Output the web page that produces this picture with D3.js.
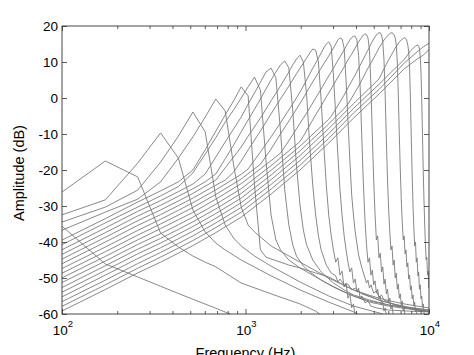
<!DOCTYPE html>
<html>
<head>
<meta charset="utf-8">
<script src="https://cdn.jsdelivr.net/npm/d3@7"></script>
<style>
  html, body { margin: 0; padding: 0; background: #fff; }
  svg { display: block; }
  text { font-family: "Liberation Sans", Arial, Helvetica, sans-serif; fill: #000; }
</style>
</head>
<body>
<svg id="chart" width="474" height="355"></svg>
<script>
// FFT bin spacing (Hz) — each response is sampled at integer bins
const binWidthHz = 86.13;

// Each curve: [bin index, amplitude dB]
const curve00 = [[1,-32.7],[2,-46.1],[3,-49.7],[4,-52.3],[5,-54.3],[6,-55.9],[8,-58.4],[10,-60.4],[12,-62]];
const curve01 = [[1,-28.5],[2,-17.5],[3,-21.9],[4,-37.5],[5,-41.4],[6,-43.9],[7,-45.6],[8,-46.9],[11,-51.4],[16,-54.4],[23,-57.2],[28,-59.2],[30,-60.3]];
const curve02 = [[1,-33.6],[2,-28.3],[3,-18.1],[4,-9.7],[5,-16.7],[6,-31.1],[7,-37.2],[8,-40.3],[9,-42.2],[11,-45],[16,-49.4],[23,-53.3],[33,-56.7],[45,-59.4],[50,-60.6]];
const curve03 = [[1,-35.6],[2,-30.3],[3,-25.6],[4,-17.8],[5,-10.6],[6,-3.9],[7,-9.4],[8,-27.5],[9,-35.3],[10,-38.9],[11,-41.1],[13,-43.9],[16,-46.7],[23,-51.1],[33,-55],[45,-57.8],[62,-59.7],[70,-60.6]];
const curve04 = [[1,-38.1],[2,-31.7],[3,-28.1],[4,-23.3],[5,-16.7],[6,-10.8],[7,-5.3],[8,-0.3],[9,-3.6],[10,-18.6],[11,-30.3],[12,-35.3],[13,-37.2],[16,-41.1],[23,-45.6],[33,-50],[45,-53.3],[62,-56.1],[85,-58.1],[116,-59.4]];
const curve05 = [[1,-41.1],[2,-33.5],[3,-28.9],[4,-25.8],[5,-23.3],[6,-20],[7,-14.4],[8,-9.2],[9,-4.7],[10,-0.8],[11,3.1],[12,0.6],[13,-24.2],[14,-42.2],[15,-44.2],[16,-44.7],[20,-46.4],[23,-47.2],[28,-48.6],[33,-49.7],[38,-51.4],[45,-53.3],[52,-54.4],[62,-55.6],[72,-56.4],[85,-57.2],[100,-57.8],[116,-58.3]];
const curve06 = [[1,-42.4],[2,-34.7],[3,-30.3],[4,-27.2],[5,-24.6],[6,-20.8],[7,-15.6],[8,-11],[9,-6.7],[10,-3.3],[11,0],[12,3.1],[13,5.8],[14,2.2],[15,-17.2],[16,-32.5],[17,-39.4],[18,-42.2],[20,-45],[23,-47.2],[28,-49.7],[33,-51.7],[38,-53.3],[45,-55],[55,-56.4],[70,-57.5],[90,-58.3],[116,-58.9]];
const curve07 = [[1,-43.8],[2,-36.1],[3,-31.5],[4,-28.5],[5,-26],[6,-23.9],[7,-21.1],[8,-16.4],[9,-12.2],[10,-8.6],[11,-5.3],[12,-1.7],[13,1.4],[14,4.4],[15,7.2],[16,8.3],[17,5.6],[18,-8.9],[19,-25.6],[20,-35.3],[21,-40.8],[22,-43.9],[24,-46.7],[26,-48.3],[30,-50.6],[35,-52.5],[40,-53.9],[45,-55],[55,-56.7],[70,-57.8],[90,-58.6],[116,-59.4]];
const curve08 = [[1,-45.1],[2,-37.4],[3,-32.8],[4,-29.8],[5,-27.3],[6,-25.2],[7,-23.3],[8,-21.1],[9,-16.9],[10,-13.1],[11,-9.4],[12,-6.1],[13,-3.1],[14,-0.3],[15,2.5],[16,5],[17,7.2],[18,9.2],[19,10.3],[20,8.3],[21,-3.3],[22,-18.6],[23,-29.7],[24,-36.7],[25,-40.8],[27,-45],[30,-48.3],[35,-51.4],[40,-53.3],[45,-54.7],[55,-56.1],[70,-57.5],[90,-58.3],[116,-59.2]];
const curve09 = [[1,-46.4],[2,-38.7],[3,-34.1],[4,-31.1],[5,-28.6],[6,-26.5],[8,-22.8],[9,-19.4],[10,-16.4],[11,-13.6],[12,-10.6],[14,-5.6],[16,-0.8],[18,3.3],[20,7.2],[21,9.2],[22,10.8],[23,11.9],[24,10],[25,0.8],[26,-13.1],[27,-24.2],[28,-32.5],[29,-38.3],[30,-42.2],[32,-46.4],[34,-48.6],[36,-49.4],[37,-51.1],[38,-50.3],[40,-51.9],[42,-51.7],[44,-53.3],[46,-52.8],[50,-54.4],[56,-55.3],[64,-56.4],[74,-57.2],[90,-58.1],[116,-58.9]];
const curve10 = [[1,-47.7],[2,-40],[3,-35.4],[4,-32.4],[5,-29.9],[6,-27.8],[8,-24.2],[9,-22.8],[10,-20.6],[11,-17.5],[12,-14.4],[14,-9.2],[16,-4.4],[18,-0.3],[20,3.3],[22,6.7],[24,9.7],[25,11.1],[26,12.5],[27,13.6],[28,13.3],[29,10],[30,-0.6],[31,-13.1],[32,-24.2],[33,-32.5],[34,-38.1],[35,-42.2],[36,-45.6],[37,-44.4],[38,-49.2],[39,-48.1],[40,-52.5],[41,-51.4],[42,-55.6],[43,-54.4],[44,-58.3],[45,-57.2],[46,-60.6]];
const curve11 = [[1,-49],[2,-41.4],[3,-36.8],[4,-33.7],[5,-31.2],[6,-29.1],[8,-25.5],[11,-21.2],[12,-19.7],[14,-15],[16,-10.8],[18,-6.9],[20,-3.3],[22,0],[24,3.3],[26,6.7],[28,9.7],[30,12.5],[31,13.9],[32,15],[33,15.6],[34,14.4],[35,6.4],[36,-4.7],[37,-15.8],[38,-25.6],[39,-32.5],[40,-38.1],[41,-42.2],[42,-45.6],[43,-48.3],[44,-47.2],[45,-51.4],[46,-50.3],[47,-53.9],[48,-52.8],[49,-55.8],[50,-55],[52,-56.9],[54,-56.4],[56,-57.8],[60,-58.3],[70,-58.9],[90,-59.2],[116,-59.4]];
const curve12 = [[1,-50.3],[2,-42.7],[3,-38.1],[4,-35],[5,-32.5],[6,-30.4],[8,-26.8],[11,-22.5],[14,-18.4],[16,-14.2],[18,-10],[20,-6.4],[22,-3.1],[24,0],[26,3.1],[28,5.8],[30,8.3],[33,11.7],[35,13.9],[36,15],[37,16.1],[38,16.7],[39,16.4],[40,13.9],[41,5],[42,-6.1],[43,-17.2],[44,-26.9],[45,-32.5],[46,-37.2],[48,-43.6],[50,-47.2],[52,-50],[53,-51.4],[54,-50.6],[55,-52.8],[56,-51.9],[58,-54.2],[60,-53.6],[62,-55.3],[64,-54.7],[66,-56.1],[70,-56.7],[76,-57.5],[85,-58.1],[100,-58.9],[116,-59.4]];
const curve13 = [[1,-51.6],[2,-44],[3,-39.4],[4,-36.3],[5,-33.8],[6,-31.8],[8,-28.1],[11,-23.8],[16,-17.4],[18,-15.3],[20,-11.9],[22,-8.6],[24,-5.6],[26,-2.8],[28,0],[30,2.5],[32,5],[34,7.2],[36,9.4],[38,11.4],[40,13.3],[42,15.3],[43,16.1],[44,16.8],[45,17.2],[46,17.1],[47,16.1],[48,11.9],[49,2.2],[50,-11.7],[51,-24.2],[52,-33.9],[53,-40.8],[54,-45.6],[55,-44.4],[56,-49.2],[57,-47.8],[58,-51.9],[59,-50.8],[60,-54.2],[61,-53.1],[62,-55.8],[63,-55],[64,-57.5],[65,-56.7],[66,-59.2],[67,-58.3],[68,-60.6]];
const curve14 = [[1,-52.9],[2,-45.3],[3,-40.7],[4,-37.7],[5,-35.2],[6,-33.1],[8,-29.5],[11,-25.2],[16,-18.8],[23,-12.1],[24,-10.6],[26,-7.5],[28,-4.7],[30,-2.2],[32,0.3],[34,2.5],[36,4.7],[38,6.7],[40,8.6],[42,10.6],[44,12.2],[46,13.9],[48,15.6],[50,16.9],[51,17.5],[52,17.8],[53,17.6],[54,16.7],[55,13.3],[56,3.6],[57,-10.3],[58,-22.8],[59,-32.5],[60,-39.4],[61,-38.3],[62,-44.4],[63,-43.1],[64,-48.3],[65,-46.9],[66,-51.7],[67,-50.3],[68,-54.4],[69,-53.1],[70,-56.7],[71,-55.6],[72,-58.6],[73,-57.5],[74,-60],[76,-61.1]];
const curve15 = [[1,-54.3],[2,-46.6],[3,-42],[4,-39],[5,-36.5],[6,-34.4],[8,-30.8],[11,-26.5],[16,-20.1],[23,-13.4],[33,-5.9],[34,-5.1],[36,-3.1],[38,-1.1],[40,0.8],[42,2.8],[44,4.7],[46,6.4],[48,8.3],[50,10],[52,11.7],[54,13.3],[56,15],[58,16.4],[60,17.5],[61,17.9],[62,18.1],[63,18.1],[64,17.5],[65,15.6],[66,10.6],[67,0.8],[68,-11.7],[69,-22.8],[70,-31.1],[71,-37.2],[72,-42.2],[73,-41.1],[74,-46.4],[75,-45],[76,-50],[77,-48.6],[78,-53.1],[79,-51.7],[80,-55.6],[81,-54.4],[82,-57.5],[83,-56.4],[84,-59.2],[85,-58.3],[86,-60.6]];
const curve16 = [[1,-55.6],[2,-47.9],[3,-43.3],[4,-40.3],[5,-37.8],[6,-35.7],[8,-32.1],[11,-27.8],[16,-21.4],[23,-14.7],[33,-7.2],[40,-2.9],[42,-1.7],[44,0],[46,1.7],[48,3.3],[50,5],[52,6.7],[54,8.3],[56,9.7],[58,11.1],[60,12.5],[62,13.9],[64,15],[66,16.1],[68,16.9],[70,17.6],[72,18.1],[73,18.1],[74,17.9],[75,17.5],[76,16.7],[77,14.7],[78,10],[79,0.8],[80,-10.3],[81,-20],[82,-28.3],[83,-34.4],[84,-39.4],[85,-38.3],[86,-43.3],[87,-42.2],[88,-46.9],[89,-45.8],[90,-50.3],[91,-49.2],[92,-53.3],[93,-52.2],[94,-55.8],[95,-54.7],[96,-57.8],[97,-56.7],[98,-59.4],[99,-58.6],[100,-60.6]];
const curve17 = [[1,-56.9],[2,-49.2],[3,-44.6],[4,-41.6],[5,-39.1],[6,-37],[8,-33.4],[11,-29.1],[16,-22.7],[23,-16],[33,-8.5],[45,-1.6],[62,5.3],[64,6.7],[66,8.1],[68,9.4],[70,10.6],[72,11.7],[74,12.8],[76,13.9],[78,14.7],[80,15.6],[82,16.1],[84,16.5],[85,16.7],[86,16.7],[87,16.4],[88,15.8],[89,14.7],[90,12.8],[91,8.3],[92,-0.6],[93,-11.7],[94,-21.4],[95,-29.7],[96,-36.1],[97,-41.1],[98,-40],[99,-45.6],[100,-44.4],[101,-49.4],[102,-48.3],[103,-53.1],[104,-51.9],[105,-55.8],[106,-55],[107,-58.1],[108,-57.2],[109,-59.7],[110,-60.6]];
const curve18 = [[1,-58.2],[2,-50.6],[3,-46],[4,-42.9],[5,-40.4],[6,-38.3],[8,-34.7],[11,-30.4],[16,-24],[23,-17.4],[33,-9.9],[45,-2.9],[62,3.8],[72,7.1],[85,10.7],[88,11.7],[92,13.1],[96,14],[98,14.4],[100,14.7],[101,14.7],[102,14.4],[103,13.6],[104,11.7],[105,7.2],[106,-0.6],[107,-10.3],[108,-20],[109,-28.3],[110,-35],[111,-40.6],[112,-45],[113,-44.2],[114,-49.2],[115,-48.1],[116,-52.8],[117,-51.7]];
const curve19 = [[1,-59.5],[2,-51.9],[3,-47.3],[4,-44.2],[5,-41.7],[6,-39.6],[8,-36],[11,-31.7],[16,-25.3],[23,-18.7],[33,-11.2],[45,-4.2],[62,2.4],[72,5.8],[85,9.7],[100,12.8],[108,14.2],[117,15.3]];
const curve20 = [[1,-60.8],[2,-53.2],[3,-48.6],[4,-45.6],[5,-43.1],[6,-41],[8,-37.4],[11,-33.1],[16,-26.7],[23,-20],[33,-12.5],[45,-5.6],[62,1.1],[72,4.4],[85,8.1],[100,10.8],[108,11.9],[117,13.6]];

const allCurves = [curve00, curve01, curve02, curve03, curve04, curve05, curve06, curve07,
  curve08, curve09, curve10, curve11, curve12, curve13, curve14, curve15, curve16,
  curve17, curve18, curve19, curve20];

const xMajorTicks = [100, 1000, 10000];
const xMajorExp = ["2", "3", "4"];
const xMinorTicks = [200,300,400,500,600,700,800,900,2000,3000,4000,5000,6000,7000,8000,9000];
const yTicks = [-60, -50, -40, -30, -20, -10, 0, 10, 20];

const svg = d3.select("#chart");
const plotL = 62, plotR = 429, plotT = 26, plotB = 314;

const x = d3.scaleLog().domain([100, 10000]).range([plotL, plotR]);
const y = d3.scaleLinear().domain([-60, 20]).range([plotB, plotT]);

svg.append("defs").append("clipPath").attr("id", "plotclip")
  .append("rect").attr("x", plotL).attr("y", plotT)
  .attr("width", plotR - plotL).attr("height", plotB - plotT);

const line = d3.line()
  .x(d => x(d[0] * binWidthHz))
  .y(d => y(d[1]));

svg.append("g").attr("clip-path", "url(#plotclip)")
  .selectAll("path").data(allCurves).join("path")
  .attr("d", line)
  .attr("fill", "none")
  .attr("stroke", "#7a7a7a")
  .attr("stroke-width", 0.9)
  .attr("stroke-linejoin", "round");

// axes (ticks pointing inward)
const axisColor = "#333";
function styleAxis(g) {
  g.select(".domain").remove();
  g.selectAll(".tick line").attr("stroke", axisColor).attr("stroke-width", 0.8);
}
svg.append("g").attr("transform", `translate(${plotL},0)`)
  .call(d3.axisLeft(y).tickValues(yTicks).tickSize(-5).tickPadding(4).tickFormat(d => String(d)))
  .call(styleAxis)
  .call(g => g.selectAll("text").attr("font-size", 13.5).attr("fill", "#000")
     .attr("font-family", '"Liberation Sans", Arial, sans-serif'));
svg.append("g").attr("transform", `translate(${plotR},0)`)
  .call(d3.axisRight(y).tickValues(yTicks).tickSize(-5).tickFormat(""))
  .call(styleAxis);
svg.append("g").attr("transform", `translate(0,${plotB})`)
  .call(d3.axisBottom(x).tickValues(xMajorTicks).tickSize(-5).tickFormat(""))
  .call(styleAxis);
svg.append("g").attr("transform", `translate(0,${plotB})`)
  .call(d3.axisBottom(x).tickValues(xMinorTicks).tickSize(-3).tickFormat(""))
  .call(styleAxis);
svg.append("g").attr("transform", `translate(0,${plotT})`)
  .call(d3.axisTop(x).tickValues(xMajorTicks).tickSize(-5).tickFormat(""))
  .call(styleAxis);
svg.append("g").attr("transform", `translate(0,${plotT})`)
  .call(d3.axisTop(x).tickValues(xMinorTicks).tickSize(-3).tickFormat(""))
  .call(styleAxis);

// frame
svg.append("rect").attr("x", plotL).attr("y", plotT)
  .attr("width", plotR - plotL).attr("height", plotB - plotT)
  .attr("fill", "none").attr("stroke", axisColor).attr("stroke-width", 0.9);

// x tick labels 10^n
const xl = svg.append("g");
xMajorTicks.forEach((v, i) => {
  const t = xl.append("text").attr("x", x(v) + 1).attr("y", 335)
    .attr("text-anchor", "middle").attr("font-size", 13.5);
  t.append("tspan").text("10");
  t.append("tspan").attr("dy", -8).attr("font-size", 9.5).text(xMajorExp[i]);
});

// axis titles
svg.append("text").attr("x", (plotL + plotR) / 2).attr("y", 358)
  .attr("text-anchor", "middle").attr("font-size", 14.5).text("Frequency (Hz)");
svg.append("text").attr("transform", `translate(24,173) rotate(-90)`)
  .attr("text-anchor", "middle").attr("font-size", 14.5).text("Amplitude (dB)");
</script>
</body>
</html>
